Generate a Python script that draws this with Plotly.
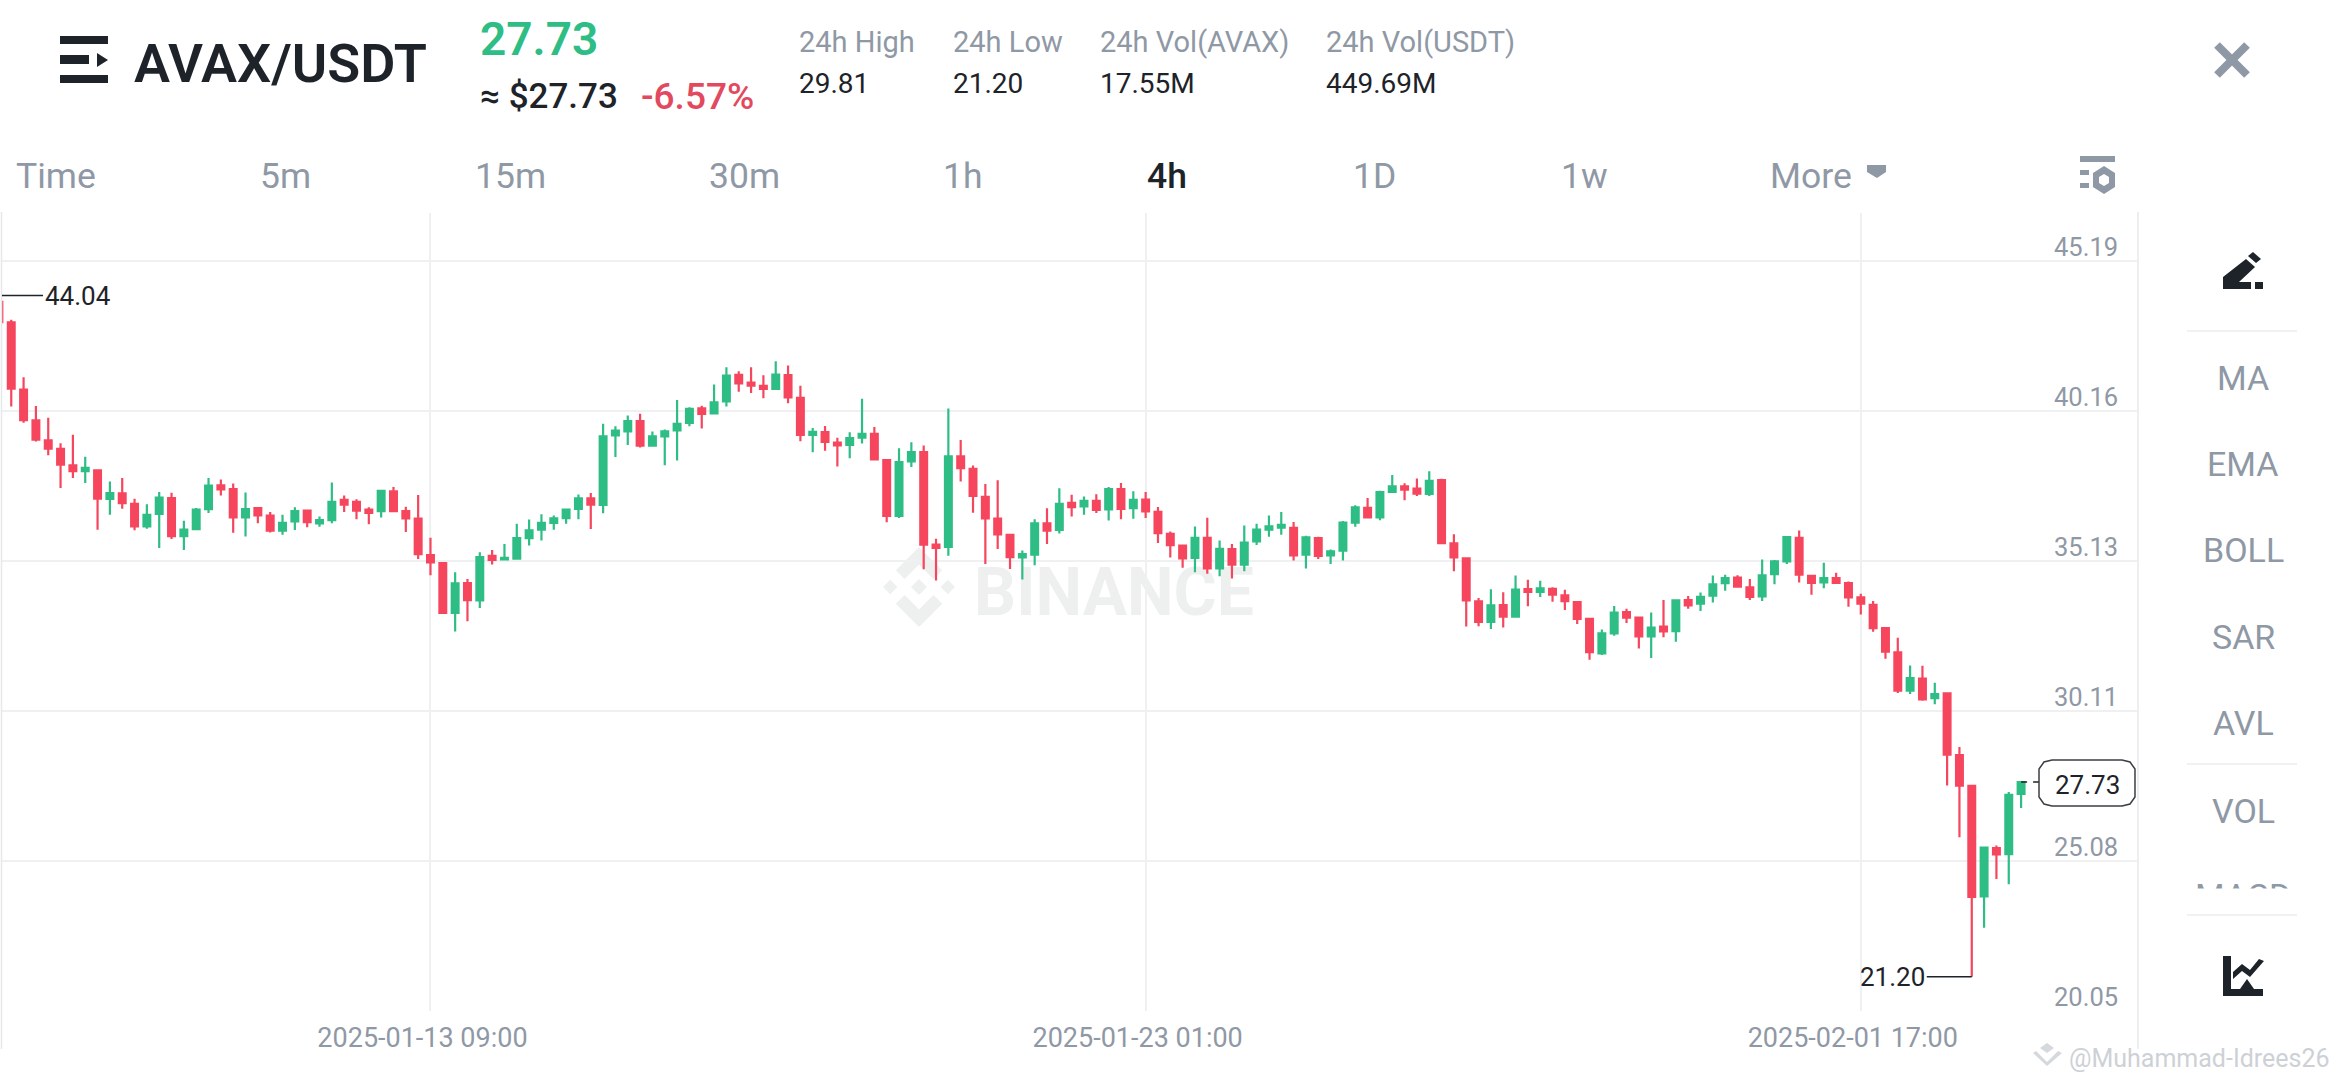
import pandas as pd
import plotly.graph_objects as go

symbol = "AVAX/USDT"
last_price = "27.73"
usd_price = "≈ $27.73"
change_pct = "-6.57%"
stat_names = ["24h High", "24h Low", "24h Vol(AVAX)", "24h Vol(USDT)"]
stat_values = ["29.81", "21.20", "17.55M", "449.69M"]
intervals = ["Time", "5m", "15m", "30m", "1h", "4h", "1D", "1w", "More"]
indicators = ["MA", "EMA", "BOLL", "SAR", "AVL", "VOL"]

price_ticks = [45.19, 40.16, 35.13, 30.11, 25.08, 20.05]
date_ticks = ["2025-01-13 09:00", "2025-01-23 01:00", "2025-02-01 17:00"]

times = pd.date_range("2025-01-07 13:00", periods=165, freq="4h")

opens = [
    43.83, 43.14, 40.89, 39.86, 39.19, 38.90, 38.35, 38.15, 38.18, 37.22,
    37.41, 37.06, 36.30, 36.72, 37.25, 35.97, 36.21, 36.88, 37.68, 37.55,
    36.60, 36.91, 36.66, 36.16, 36.47, 36.83, 36.40, 36.51, 37.19, 37.12,
    36.86, 36.81, 37.48, 36.81, 36.56, 35.34, 35.07, 33.40, 34.40, 33.82,
    35.31, 35.19, 35.22, 35.91, 36.19, 36.42, 36.58, 36.89, 37.24, 37.02,
    39.35, 39.49, 39.83, 39.01, 39.32, 39.52, 39.77, 40.26, 40.09, 40.49,
    41.38, 41.12, 41.01, 40.91, 41.37, 40.61, 39.37, 39.46, 39.11, 39.03,
    39.28, 39.40, 38.52, 36.65, 38.48, 38.79, 35.69, 35.61, 38.65, 38.23,
    37.29, 36.56, 36.02, 35.26, 35.35, 36.40, 36.18, 37.09, 36.97, 37.16,
    36.87, 37.55, 36.91, 37.20, 36.79, 36.05, 35.66, 35.24, 35.92, 34.89,
    35.54, 35.02, 35.80, 36.19, 36.26, 36.25, 35.35, 35.91, 35.33, 35.49,
    36.43, 36.92, 36.60, 37.46, 37.64, 37.57, 37.39, 37.85, 35.73, 35.23,
    33.79, 33.10, 33.66, 33.27, 34.20, 34.10, 34.21, 33.99, 33.76, 33.20,
    32.04, 32.71, 33.43, 33.24, 32.61, 32.94, 32.79, 33.83, 33.71, 33.98,
    34.40, 34.58, 34.26, 33.95, 34.70, 35.13, 35.92, 34.64, 34.42, 34.57,
    34.40, 33.92, 33.67, 32.89, 32.08, 30.79, 31.20, 30.54, 30.70, 28.63,
    27.60, 23.89, 25.51, 25.31, 27.33,
]
highs = [
    44.04, 43.23, 41.30, 40.34, 39.94, 39.09, 39.37, 38.64, 38.20, 37.81,
    37.92, 37.23, 37.04, 37.45, 37.43, 36.49, 36.92, 37.92, 37.87, 37.74,
    37.44, 36.94, 36.78, 36.69, 36.94, 36.87, 36.63, 37.77, 37.34, 37.21,
    36.94, 37.52, 37.62, 36.96, 37.35, 35.92, 35.09, 34.76, 34.54, 35.43,
    35.51, 35.71, 36.39, 36.53, 36.71, 36.67, 36.90, 37.37, 37.42, 39.74,
    39.66, 40.02, 40.08, 39.48, 39.55, 40.54, 40.30, 40.35, 41.06, 41.64,
    41.50, 41.64, 41.37, 41.84, 41.70, 41.02, 39.60, 39.67, 39.27, 39.46,
    40.58, 39.63, 38.53, 38.92, 39.12, 39.01, 35.89, 40.25, 39.20, 38.34,
    37.72, 37.85, 36.03, 35.49, 36.54, 36.91, 37.58, 37.36, 37.30, 37.38,
    37.62, 37.76, 37.48, 37.45, 36.95, 36.13, 35.67, 36.30, 36.59, 35.83,
    35.71, 36.33, 36.39, 36.67, 36.78, 36.45, 35.99, 35.95, 35.53, 36.48,
    37.01, 37.25, 37.50, 38.02, 37.75, 37.91, 38.15, 37.90, 36.04, 35.24,
    33.90, 34.19, 34.09, 34.65, 34.51, 34.48, 34.26, 34.18, 33.79, 33.24,
    32.84, 33.63, 33.54, 33.27, 33.41, 33.83, 33.83, 33.97, 34.08, 34.65,
    34.68, 34.66, 34.54, 35.19, 35.17, 35.96, 36.16, 34.65, 35.08, 34.75,
    34.45, 34.04, 33.80, 32.89, 32.57, 31.64, 31.63, 31.06, 30.74, 28.90,
    27.61, 25.57, 25.60, 27.39, 27.75,
]
lows = [
    43.15, 40.32, 39.78, 39.15, 38.69, 37.59, 37.92, 37.76, 36.19, 36.69,
    36.89, 36.17, 36.22, 35.58, 35.88, 35.51, 36.21, 36.75, 37.34, 36.09,
    35.96, 36.41, 36.10, 36.02, 36.18, 36.27, 36.29, 36.41, 36.78, 36.54,
    36.37, 36.60, 36.78, 36.11, 35.21, 34.66, 33.37, 32.78, 33.12, 33.56,
    35.02, 35.19, 35.22, 35.66, 35.83, 36.19, 36.39, 36.54, 36.21, 36.74,
    38.63, 39.03, 38.95, 39.01, 38.35, 38.51, 39.66, 39.58, 40.09, 40.32,
    40.82, 40.77, 40.60, 40.89, 40.43, 39.16, 38.79, 38.84, 38.31, 38.59,
    39.08, 38.54, 36.44, 36.58, 38.29, 34.86, 34.49, 35.32, 37.81, 36.76,
    35.04, 35.54, 34.87, 34.52, 35.00, 35.71, 36.06, 36.63, 36.69, 36.75,
    36.50, 36.54, 36.56, 36.58, 35.74, 35.26, 34.91, 34.76, 34.71, 34.63,
    34.55, 34.80, 35.68, 35.95, 36.02, 35.16, 34.89, 35.21, 35.04, 35.16,
    36.29, 36.58, 36.51, 37.44, 37.18, 37.32, 37.32, 35.71, 34.80, 32.94,
    32.95, 32.86, 32.91, 33.27, 33.62, 33.93, 33.77, 33.50, 33.03, 31.83,
    31.99, 32.63, 33.06, 32.21, 31.89, 32.58, 32.43, 33.54, 33.46, 33.75,
    34.14, 34.24, 33.83, 33.80, 34.36, 35.04, 34.42, 34.01, 34.23, 34.37,
    33.61, 33.35, 32.77, 31.86, 30.71, 30.68, 30.45, 30.34, 27.61, 25.88,
    21.20, 22.84, 24.48, 24.30, 26.86,
]
closes = [
    43.15, 40.92, 39.86, 39.21, 38.91, 38.37, 38.15, 38.26, 37.23, 37.42,
    37.08, 36.30, 36.69, 37.27, 35.97, 36.19, 36.86, 37.67, 37.54, 36.60,
    36.88, 36.67, 36.16, 36.42, 36.81, 36.44, 36.51, 37.12, 37.03, 36.83,
    36.75, 37.49, 36.81, 36.57, 35.37, 35.09, 33.40, 34.39, 33.83, 35.27,
    35.18, 35.25, 35.91, 36.17, 36.42, 36.57, 36.86, 37.24, 37.03, 39.32,
    39.51, 39.83, 39.01, 39.32, 39.49, 39.74, 40.24, 40.07, 40.46, 41.36,
    41.10, 41.02, 40.91, 41.39, 40.63, 39.37, 39.47, 39.13, 39.02, 39.26,
    39.40, 38.55, 36.65, 38.46, 38.79, 35.69, 35.58, 38.65, 38.25, 37.32,
    36.57, 36.03, 35.27, 35.37, 36.40, 36.16, 37.06, 36.95, 37.16, 36.85,
    37.55, 36.89, 37.19, 36.80, 36.07, 35.67, 35.23, 35.92, 34.89, 35.55,
    35.02, 35.76, 36.19, 36.30, 36.35, 35.33, 35.93, 35.31, 35.46, 36.43,
    36.94, 36.60, 37.45, 37.64, 37.53, 37.40, 37.83, 35.74, 35.26, 33.82,
    33.10, 33.65, 33.27, 34.18, 34.10, 34.22, 34.01, 33.79, 33.20, 32.08,
    32.71, 33.41, 33.24, 32.61, 32.91, 32.78, 33.82, 33.65, 33.94, 34.36,
    34.57, 34.28, 33.94, 34.66, 35.13, 35.94, 34.68, 34.41, 34.57, 34.41,
    33.92, 33.71, 32.89, 32.10, 30.79, 31.21, 30.50, 30.68, 28.65, 27.61,
    23.88, 25.53, 25.30, 27.30, 27.73,
]

W, H = 2340, 1080
GREEN = "#2EBD85"
RED = "#F6465D"
DARK = "#1E2329"
GREY = "#8F98A5"
GRID = "#EEF0F2"
FONT = "Roboto"


def px(x):
    return x / W


def py(y):
    return 1 - y / H


def poly(points):
    return "M" + " L".join(f"{px(x):.5f},{py(y):.5f}" for x, y in points) + " Z"


def icon(points, color=DARK, layer="above"):
    return dict(type="path", xref="paper", yref="paper", path=poly(points), fillcolor=color,
                line=dict(width=0), layer=layer)


def bar(x0, y0, x1, y1, color=DARK):
    return icon([(x0, y0), (x1, y0), (x1, y1), (x0, y1)], color)


def seg(x0, y0, x1, y1, color=GRID, width=1.5):
    return dict(type="line", xref="paper", yref="paper", x0=px(x0), y0=py(y0), x1=px(x1), y1=py(y1),
                line=dict(color=color, width=width))


def label(text, x, y, size, color=DARK, anchor="center", weight=400):
    return dict(text=text, xref="paper", yref="paper", x=px(x), y=py(y), xanchor=anchor, yanchor="middle",
                showarrow=False, font=dict(family=FONT, size=size, color=color, weight=weight))


def diamond(cx, cy, r, color):
    return icon([(cx, cy - r), (cx + r, cy), (cx, cy + r), (cx - r, cy)], color, layer="below")


fig = go.Figure(go.Candlestick(
    x=times, open=opens, high=highs, low=lows, close=closes,
    increasing=dict(line=dict(color=GREEN, width=2.2), fillcolor=GREEN),
    decreasing=dict(line=dict(color=RED, width=2.2), fillcolor=RED),
    whiskerwidth=0, showlegend=False,
))

shapes = []
annotations = []

# header
shapes += [bar(60, 36, 108, 44), bar(60, 55, 89, 64), bar(60, 75, 108, 83),
           icon([(97, 53), (108, 60), (97, 67)])]
annotations += [
    label(symbol, 132, 64, 54, weight=600, anchor="left"),
    label(last_price, 478, 39, 46, GREEN, "left", 600),
    label(usd_price, 478, 97, 35, anchor="left", weight=500),
    label(change_pct, 639, 97, 37, "#E2495F", "left", 500),
]
for name, value, x in zip(stat_names, stat_values, [797, 951, 1098, 1324]):
    annotations.append(label(name, x, 42, 29, GREY, "left"))
    annotations.append(label(value, x, 84, 28, anchor="left"))

# close button
shapes += [seg(2217, 45, 2247, 75, GREY, 8), seg(2247, 45, 2217, 75, GREY, 8)]

# interval row
for name, x in zip(intervals, [56, 285, 510, 744, 963, 1167, 1374, 1584, 1811]):
    selected = name == "4h"
    annotations.append(label(name, x, 176, 35.5, DARK if selected else GREY, weight=500 if selected else 400))
shapes.append(icon([(1867, 165), (1886, 165), (1886, 172), (1877, 178), (1867, 172)], GREY))
shapes += [bar(2080, 156, 2115, 162, GREY), bar(2080, 170, 2089, 175, GREY), bar(2080, 183, 2089, 188, GREY)]
shapes.append(dict(
    type="path", xref="paper", yref="paper", fillcolor=GREY, line=dict(width=0), fillrule="evenodd",
    path=poly([(2104, 166), (2115, 173), (2115, 187), (2104, 194), (2093, 187), (2093, 173)]) + " "
    + poly([(2104, 174), (2109, 177), (2109, 183), (2104, 186), (2099, 183), (2099, 177)]),
))

# chart frame
shapes += [seg(1.5, 212, 1.5, 1049, "#E6E8EB"), seg(2138, 212, 2138, 1049, "#E6E8EB")]

# binance watermark, under the candles
mark = "#EEF0F0"
cx, cy, r = 919, 587, 40
shapes += [
    diamond(cx, cy, 0.2 * r, mark),
    diamond(cx - 0.72 * r, cy, 0.18 * r, mark),
    diamond(cx + 0.72 * r, cy, 0.18 * r, mark),
    icon([(cx, cy - r), (cx + 0.58 * r, cy - 0.42 * r), (cx + 0.36 * r, cy - 0.2 * r), (cx, cy - 0.56 * r),
          (cx - 0.36 * r, cy - 0.2 * r), (cx - 0.58 * r, cy - 0.42 * r)], mark, "below"),
    icon([(cx, cy + r), (cx + 0.58 * r, cy + 0.42 * r), (cx + 0.36 * r, cy + 0.2 * r), (cx, cy + 0.56 * r),
          (cx - 0.36 * r, cy + 0.2 * r), (cx - 0.58 * r, cy + 0.42 * r)], mark, "below"),
]
shapes.append(dict(
    type="rect", xref="paper", yref="paper", x0=px(968), x1=px(1260), y0=py(610), y1=py(565),
    line=dict(width=0), fillcolor="rgba(0,0,0,0)", layer="below",
    label=dict(text="BINANCE", font=dict(family=FONT, size=66, color=mark, weight=700),
               textposition="middle center"),
))

# price axis labels sit above their gridlines
for value in price_ticks:
    annotations.append(dict(
        text=f"{value:.2f}", xref="paper", yref="y", x=px(2120), y=value, xanchor="right", yanchor="bottom",
        yshift=-3, showarrow=False, font=dict(family=FONT, size=25.5, color=GREY),
    ))

# high and low markers
start = "2025-01-07 14:00"
annotations.append(dict(
    text=f"{max(highs):.2f}", x=start, y=max(highs), ax=41, ay=0, xanchor="left", yanchor="middle",
    showarrow=True, arrowhead=0, arrowwidth=1.5, arrowcolor=DARK, standoff=0,
    font=dict(family=FONT, size=26, color=DARK),
))
low_pos = lows.index(min(lows))
annotations.append(dict(
    text=f"{min(lows):.2f}", x=times[low_pos], y=min(lows), ax=-45, ay=0, xanchor="right", yanchor="middle",
    showarrow=True, arrowhead=0, arrowwidth=1.5, arrowcolor=DARK, standoff=0,
    font=dict(family=FONT, size=26, color=DARK),
))

# last price tag
shapes.append(dict(type="line", xref="x", yref="y", x0=times[-1], x1=pd.Timestamp("2025-02-05 00:00"),
                   y0=closes[-1], y1=closes[-1], line=dict(color=DARK, width=1.5, dash="6px,6px")))
tag = [(2052, 760), (2122, 760), (2130, 762), (2135, 769), (2135, 797), (2130, 804), (2122, 806),
       (2052, 806), (2044, 804), (2039, 797), (2039, 769), (2044, 762)]
shapes.append(dict(type="path", xref="paper", yref="paper", path=poly(tag), fillcolor="white",
                   line=dict(color="#3A3F45", width=1.5)))
annotations.append(label(last_price, 2087, 785, 26))

# right hand menu
for y in [331, 764, 915]:
    shapes.append(seg(2187, y, 2297, y, "#EAECEF", 1.5))
for name, y in zip(indicators, [378, 464, 550, 637, 723, 811]):
    annotations.append(label(name, 2243, y, 34, GREY))
annotations.append(label("MACD", 2243, 896, 34, GREY))
annotations.append(dict(text=" ", xref="paper", yref="paper", x=px(2243), y=py(901), xanchor="center",
                        yanchor="middle", width=140, height=22, bgcolor="white", showarrow=False))

# pencil
shapes += [
    icon([(2223, 289), (2223, 277), (2246, 259), (2255, 267), (2239, 282), (2251, 282), (2251, 289)]),
    bar(2255, 282, 2263, 289),
    icon([(2253, 252), (2261, 259), (2256, 263), (2248, 256)]),
]
# chart settings icon
shapes += [
    bar(2223, 956, 2231, 996), bar(2223, 989, 2263, 996),
    icon([(2233, 972), (2242, 964), (2250, 970), (2259, 959), (2264, 961), (2250, 977), (2242, 971), (2233, 979)]),
    icon([(2240, 989), (2247, 979), (2254, 989)]),
]

# repost credit
annotations.append(label("@Muhammad-Idrees26", 2067, 1058, 25, "#CDD1D6", "left"))
shapes += [
    icon([(2047, 1043), (2054, 1048), (2047, 1053), (2040, 1048)], "#D5D8DC"),
    icon([(2033, 1053), (2036, 1051), (2047, 1062), (2058, 1051), (2062, 1053), (2047, 1066)], "#D5D8DC"),
]

fig.update_layout(
    width=W, height=H, autosize=False,
    margin=dict(l=0, r=0, t=0, b=0),
    paper_bgcolor="white", plot_bgcolor="white",
    boxgap=0.45, boxgroupgap=0,
    shapes=shapes, annotations=annotations,
    hovermode=False,
    xaxis=dict(
        domain=[px(2), px(2137)],
        range=[start, "2025-02-05 10:36"],
        rangeslider=dict(visible=False),
        tickmode="array",
        tickvals=[pd.Timestamp(d) for d in date_ticks],
        ticktext=date_ticks,
        showgrid=True, gridcolor=GRID, gridwidth=1.5,
        zeroline=False, showline=False,
        ticks="outside", ticklen=3, tickcolor="rgba(0,0,0,0)",
        ticklabelshift=-8,
        tickfont=dict(family=FONT, size=27, color=GREY),
    ),
    yaxis=dict(
        domain=[py(1011), py(213)],
        range=[20.05, 46.81],
        tickmode="array",
        tickvals=price_ticks,
        showticklabels=False,
        showgrid=True, gridcolor=GRID, gridwidth=1.5,
        zeroline=False, showline=False,
    ),
)

fig.write_html("out.html", config=dict(displayModeBar=False),
               post_script="document.body.style.margin='0';")
